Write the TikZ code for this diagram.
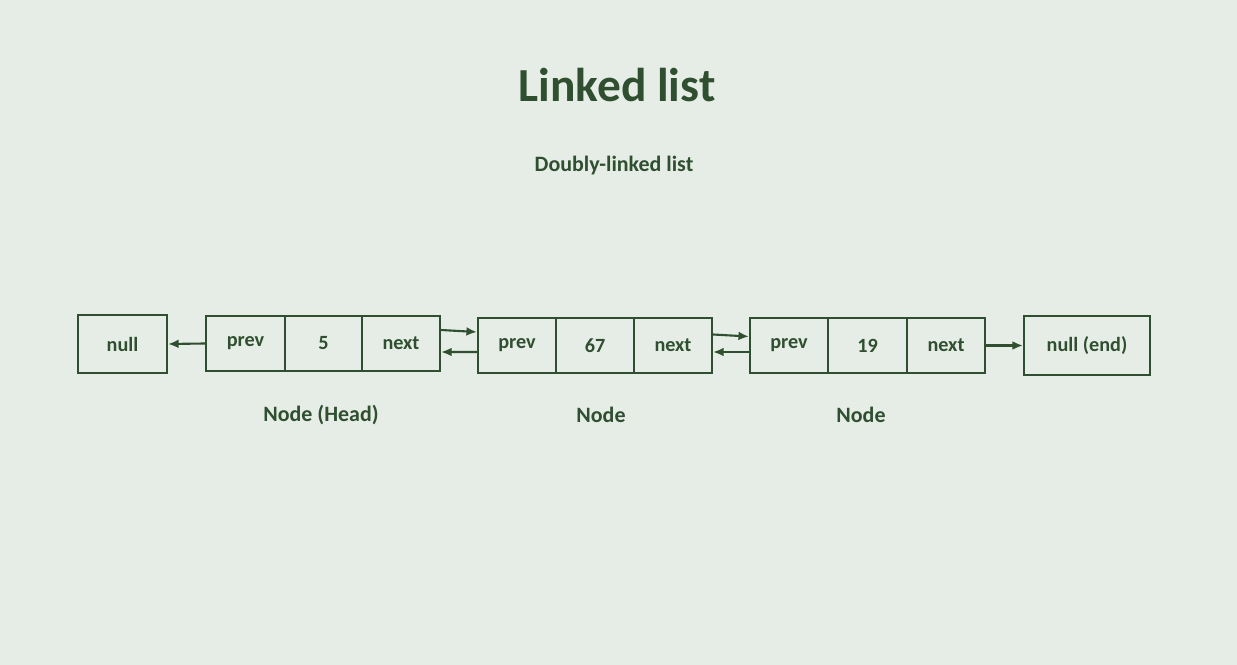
\documentclass[tikz,border=0pt]{standalone}
\usepackage{fontspec}
\setmainfont{Carlito}
\usetikzlibrary{arrows.meta}
\definecolor{bgc}{HTML}{E6EDE6}
\definecolor{ink}{HTML}{2F4F30}
\tikzset{
  cell/.style={draw=ink, line width=1.2pt, minimum height=1.1cm, inner sep=0pt, font=\fontsize{11.5}{14}\bfseries, text=ink},
  link/.style={draw=ink, line width=1.2pt, -{Latex[length=6pt,width=5pt]}},
  caption/.style={font=\fontsize{12.5}{15}\bfseries, text=ink}
}
\begin{document}
\begin{tikzpicture}[x=0.02cm, y=-0.02cm]
  \fill[bgc] (0,0) rectangle (1237,665);
  \useasboundingbox (0,0) rectangle (1237,665);
  \node[font=\fontsize{27}{32}\bfseries, text=ink] (title) at (617,85) {Linked list};
  \node[caption] (sub) at (614,166) {Doubly-linked list};
  % null at the start
  \node[cell, minimum width=1.78cm, minimum height=1.16cm] (null) at (122.5,344) {null};
  % head node
  \node[cell, minimum width=1.58cm] (hprev) at (245.5,343.5) {prev};
  \node[cell, minimum width=1.54cm] (hval) at (323.5,343.5) {5};
  \node[cell, minimum width=1.56cm] (hnext) at (401,343.5) {next};
  % second node
  \node[cell, minimum width=1.56cm] (aprev) at (517,345.5) {prev};
  \node[cell, minimum width=1.56cm] (aval) at (595,345.5) {67};
  \node[cell, minimum width=1.56cm] (anext) at (673,345.5) {next};
  % third node
  \node[cell, minimum width=1.56cm] (bprev) at (789,345.5) {prev};
  \node[cell, minimum width=1.58cm] (bval) at (867.5,345.5) {19};
  \node[cell, minimum width=1.56cm] (bnext) at (946,345.5) {next};
  % null at the end
  \node[cell, minimum width=2.52cm, minimum height=1.18cm] (nullend) at (1087,345.5) {null (end)};
  % links
  \draw[link] (hprev.west) -- (null.east);
  \draw[link] ([yshift=0.27cm]hnext.east) -- ([yshift=0.27cm]aprev.west);
  \draw[link] ([yshift=-0.13cm]aprev.west) -- ([yshift=-0.17cm]hnext.east);
  \draw[link] ([yshift=0.22cm]anext.east) -- ([yshift=0.18cm]bprev.west);
  \draw[link] ([yshift=-0.13cm]bprev.west) -- ([yshift=-0.13cm]anext.east);
  \draw[link] (bnext.east) -- (nullend.west);
  % captions
  \node[caption] (hcap) at (321,415) {Node (Head)};
  \node[caption] (acap) at (601,415) {Node};
  \node[caption] (bcap) at (861,415) {Node};
\end{tikzpicture}
\end{document}
